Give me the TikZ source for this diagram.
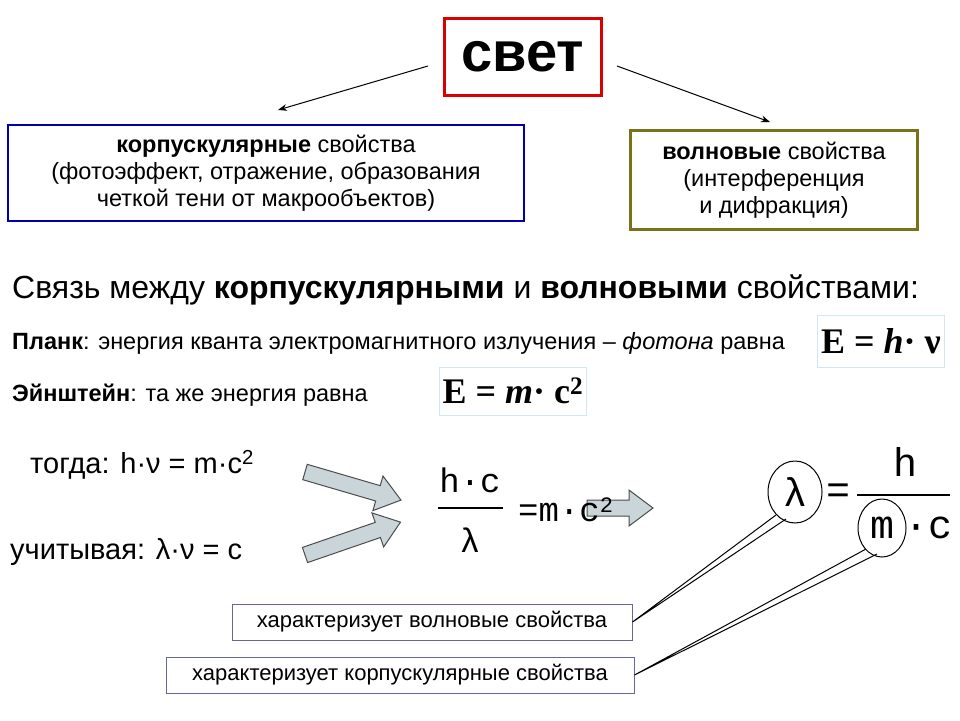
\documentclass[tikz,border=0pt]{standalone}
\usepackage{fontspec}
\setmainfont{Liberation Sans}
\newfontfamily\tms{Liberation Serif}
\newfontfamily\mono{Liberation Mono}
\usetikzlibrary{arrows.meta}
\newcommand{\blockarr}[4]{% x y angle length
  \begin{scope}[shift={(#1,#2)},rotate=#3]
    \draw[draw=black!70,fill=cyan!20!gray!40,line width=1pt] (0,-8) -- (#4-24,-8) -- (#4-24,-18) -- (#4,0) -- (#4-24,18) -- (#4-24,8) -- (0,8) -- cycle;
  \end{scope}}
\begin{document}
\begin{tikzpicture}[x=1pt,y=-1pt,
  txt/.style={font=\fontsize{23.5}{27}\selectfont,inner sep=0pt},
  fbox/.style={draw=black!25!cyan!20,line width=1pt,fill=white},
  cbox/.style={draw=black!60!blue!60,line width=1pt,font=\fontsize{22}{26}\selectfont,inner sep=0pt,minimum height=36pt},
  fm/.style={font=\mono\fontsize{40}{40}\selectfont,inner sep=0pt}]
\useasboundingbox (0,0) rectangle (960,720);
% top
\node[draw=red!85!black,line width=2.5pt,minimum width=157pt,minimum height=77pt,font=\bfseries\fontsize{56}{60}\selectfont] (svet) at (523,57) {свет};
\node[draw=blue!70!black,line width=2pt,minimum width=516pt,minimum height=96pt,align=center,txt] (korp) at (266,173) {\textbf{корпускулярные} свойства\\(фотоэффект, отражение, образования\\четкой тени от макрообъектов)};
\node[draw=olive!80!black,line width=2.5pt,minimum width=287pt,minimum height=99pt,align=center,txt] (voln) at (774,180) {\textbf{волновые} свойства\\(интерференция\\и дифракция)};
\coordinate (a1) at (428,66); \coordinate (a2) at (617,66);
\coordinate (t1) at (278,110); \coordinate (t2) at (770,122);
\draw[-{Stealth[length=9pt]},line width=1pt] (a1) -- (t1);
\draw[-{Stealth[length=9pt]},line width=1pt] (a2) -- (t2);
% heading
\node[anchor=west,inner sep=0pt,font=\fontsize{32}{36}\selectfont] (head) at (12,290) {Связь между \textbf{корпускулярными} и \textbf{волновыми} свойствами:};
\node[anchor=west,txt] (planck) at (12,343) {\textbf{Планк}: энергия кванта электромагнитного излучения – \textit{фотона} равна};
\node[fbox,minimum width=126pt,minimum height=52pt,font=\tms\bfseries\fontsize{36}{36}\selectfont] (e1) at (881,341) {E = \textit{h}· ν};
\node[anchor=west,txt] (ein) at (12,395) {\textbf{Эйнштейн}: та же энергия равна};
\node[fbox,minimum width=141pt,minimum height=48pt,font=\tms\bfseries\fontsize{36}{36}\selectfont] (e2) at (513,391) {E = \textit{m}· c\textsuperscript{2}};
% left formulas
\node[anchor=west,inner sep=0pt,font=\fontsize{29}{32}\selectfont] (togda) at (30,465) {тогда: h·ν = m·c\textsuperscript{2}};
\node[anchor=west,inner sep=0pt,font=\fontsize{29}{32}\selectfont] (uch) at (10,552) {учитывая: λ·ν = c};
% block arrows
\blockarr{305}{472}{-16.3}{100}
\blockarr{305}{555}{19}{101}
\blockarr{587}{508}{0}{66}
% formula
\node[fm,font=\mono\fontsize{34}{34}\selectfont] (hc) at (470,480) {h·c};
\draw[line width=2.5pt] (438,508) -- (503,508);
\node[fm,font=\mono\fontsize{34}{34}\selectfont] (lam) at (470,540) {λ};
\node[fm,anchor=west,font=\mono\fontsize{34}{34}\selectfont] (mc2) at (518,510) {=m·c\textsuperscript{\fontsize{22}{22}\selectfont 2}};
\node[fm] (lam2) at (795,492) {λ};
\draw[line width=1pt] (lam2) ellipse (27pt and 31pt);
\node[fm] (eq2) at (838,494) {=};
\node[fm] (h2) at (905,462) {h};
\draw[line width=2.5pt] (857,495) -- (950,495);
\node[fm] (m2) at (882,528) {m};
\node[fm] (c2) at (928,528) {·c};
\draw[line width=1pt] (m2) ellipse (24pt and 29pt);
% callouts
\node[cbox,minimum width=400pt] (w) at (432,622) {характеризует волновые свойства};
\node[cbox,minimum width=468pt] (k) at (400,675) {характеризует корпускулярные свойства};
\draw[line width=1pt] (776,515) -- (w.east) -- (786,519);
\draw[line width=1pt] (866,549) -- (k.east) -- (877,554);
\end{tikzpicture}
\end{document}
